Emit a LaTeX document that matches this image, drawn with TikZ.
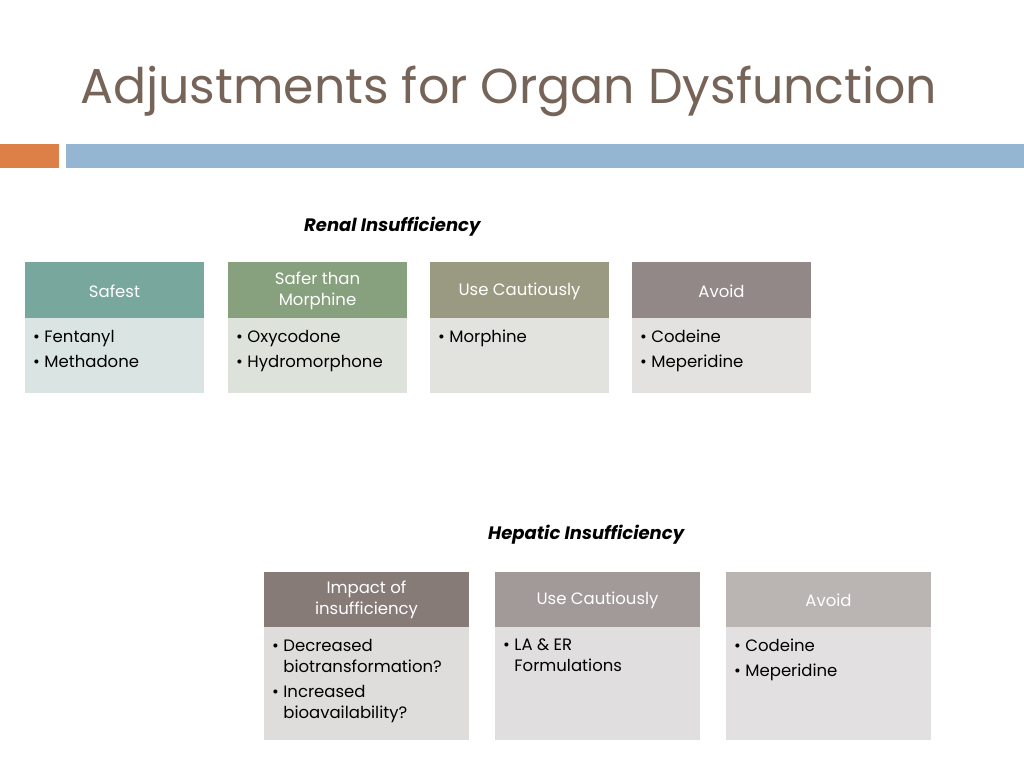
\documentclass[tikz,border=0pt]{standalone}
\usepackage{fontspec}
\setmainfont{Poppins}
\begin{document}
\begin{tikzpicture}[x=1pt,y=-1pt,
  hdr/.style={text=white,align=center,inner sep=0pt,font=\fontsize{16.5}{21}\selectfont},
  bdy/.style={anchor=north west,inner sep=0pt,align=left,font=\fontsize{16.5}{21}\selectfont},
  lbl/.style={font=\fontsize{18}{20}\selectfont\bfseries\itshape}
]
\definecolor{titlec}{RGB}{118,100,88}
\definecolor{orangebar}{RGB}{221,128,71}
\definecolor{bluebar}{RGB}{148,182,210}
\definecolor{h1}{RGB}{119,167,157}
\definecolor{h2}{RGB}{135,160,126}
\definecolor{h3}{RGB}{154,154,130}
\definecolor{h4}{RGB}{146,136,136}
\definecolor{b1}{RGB}{218,228,226}
\definecolor{b2}{RGB}{221,226,219}
\definecolor{b3}{RGB}{226,226,222}
\definecolor{b4}{RGB}{228,225,225}
\definecolor{g1}{RGB}{135,123,120}
\definecolor{g2}{RGB}{161,154,153}
\definecolor{g3}{RGB}{186,180,179}
\definecolor{c1}{RGB}{223,220,220}
\definecolor{c2}{RGB}{224,222,222}
\definecolor{c3}{RGB}{226,224,224}
\useasboundingbox (0,0) rectangle (1024,768);
\fill[white] (0,0) rectangle (1024,768);
% title
\node[anchor=base west,inner sep=0pt,text=titlec,font=\fontsize{49}{52}\selectfont] (title) at (80,103) {Adjustments for Organ Dysfunction};
\fill[orangebar] (0,144) rectangle (59,168);
\fill[bluebar] (66,144) rectangle (1024,168);
% renal
\node[lbl,anchor=west,inner sep=0pt] (renal) at (304,227) {Renal Insufficiency};
\foreach \x/\hc/\bc in {25/h1/b1,228/h2/b2,430/h3/b3,632/h4/b4}{
  \fill[\bc] (\x,318) rectangle (\x+179,393);
  \fill[\hc] (\x,262) rectangle (\x+179,318);
}
\node[hdr] (rh1) at (114.5,291) {Safest};
\node[hdr] (rh2) at (317.5,291) {Safer than\\Morphine};
\node[hdr] (rh3) at (519.5,291) {Use Cautiously};
\node[hdr] (rh4) at (721.5,291) {Avoid};
\node[bdy] (rb1) at (33,330) {• Fentanyl\\[4pt]• Methadone};
\node[bdy] (rb2) at (236,330) {• Oxycodone\\[4pt]• Hydromorphone};
\node[bdy] (rb3) at (438,330) {• Morphine};
\node[bdy] (rb4) at (640,330) {• Codeine\\[4pt]• Meperidine};
% hepatic
\node[lbl,anchor=west,inner sep=0pt] (hep) at (488,535) {Hepatic Insufficiency};
\foreach \x/\hc/\bc in {264/g1/c1,495/g2/c2,726/g3/c3}{
  \fill[\bc] (\x,627) rectangle (\x+205,740);
  \fill[\hc] (\x,572) rectangle (\x+205,627);
}
\node[hdr] (hh1) at (366.5,600) {Impact of\\insufficiency};
\node[hdr] (hh2) at (597.5,600) {Use Cautiously};
\node[hdr] (hh3) at (828.5,600) {Avoid};
\node[bdy] (hb1) at (272,639) {• Decreased\\\phantom{• }biotransformation?\\[4pt]• Increased\\\phantom{• }bioavailability?};
\node[bdy] (hb2) at (503,639) {• LA \& ER\\\phantom{• }Formulations};
\node[bdy] (hb3) at (734,639) {• Codeine\\[4pt]• Meperidine};
\end{tikzpicture}
\end{document}
